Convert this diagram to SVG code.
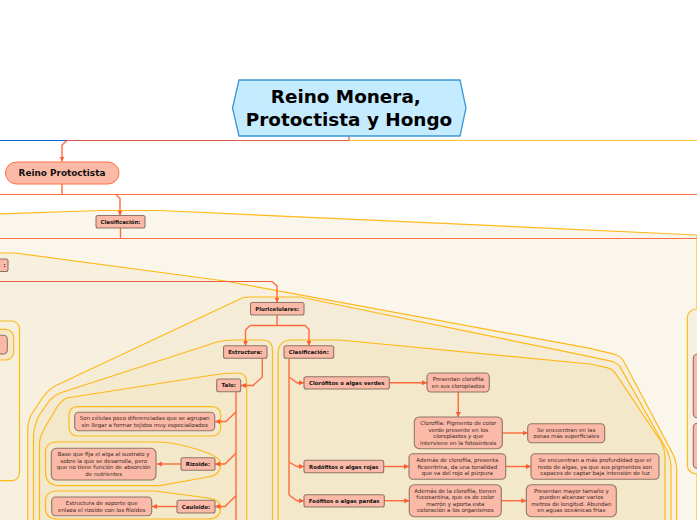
<svg xmlns="http://www.w3.org/2000/svg" width="697" height="520" viewBox="0 0 697 520">
<style>
text{font-family:"DejaVu Sans","Liberation Sans",sans-serif;text-anchor:middle;fill:#3a2a25}
.b{font-size:5.4px;font-weight:bold;fill:#111}
.t{font-size:5.5px}
.n{fill:#fbb9a7;stroke:#8f7567;stroke-width:1.1}
.r{stroke:#ffb919;stroke-width:1.2;fill:#f3e8ca}
.c{fill:none;stroke:#ff6a3d;stroke-width:1.4;marker-end:url(#a)}
.p{fill:none;stroke:#ff6a3d;stroke-width:1.4}
.l{fill:none;stroke:#ff6f47;stroke-width:1.1}
</style>
<defs><marker id="a" markerUnits="userSpaceOnUse" markerWidth="6" markerHeight="6" refX="5" refY="3" orient="auto"><path d="M0 0.5L5 3L0 5.5Z" fill="#ff5a2e"/></marker></defs>
<rect width="697" height="520" fill="#fff"/>
<g id="regions">
<path class="r" style="fill:#fbf6ec" d="M-2 214L100 210.5H160L697 235V522H-2Z"/>
<path class="r" style="fill:#f7f0df" d="M-2 253H15L225 281L590 348.3L615 354.3Q620 356 623 360L671.7 451.700Q676.700 461 676.700 470V522H-2Z"/>
<path class="r" style="fill:#f5ecd7" d="M27.7 522V430Q27.7 420 33 412L43 397Q50 388 57 385L240 299Q243 297 250 297H300L590 356.700L613 361.700Q617 363 620 366.700L665 446.700Q671 457 671 468V522Z"/>
<path class="r" style="fill:#f3ead0" d="M33.5 522V437Q34 424 40 414L50 400Q55 395 60 393L217 342Q225 340 235 340H262Q272.5 340 272.5 350V522Z"/>
<path class="r" d="M39.5 522V443Q40 437 44 429L57 407Q62 400 67 398L213 375Q225 373 237 373Q246.7 373 246.7 382V522Z"/>
<path class="r" d="M278 522V354Q278 340 292 340H340L590 364L607 367.700Q612 369 615 372.700L660 440Q665 448 665 458V522Z"/>
<rect class="r" x="69" y="406.7" width="151.7" height="29.3" rx="8"/>
<path class="r" d="M53 442H160Q180 443 208 453Q220.7 458 220.7 464Q220.7 475 208 477L160 485.7H60Q45.5 485.7 45.5 472V452Q45.5 442 58 442Z"/>
<path class="r" d="M58 491H155L208 498Q220.7 500 220.7 507Q220.7 519 208 519H58Q45.5 519 45.5 508V501Q45.5 491 58 491Z"/>
<rect class="r" style="fill:#f7f0df" x="-20" y="321" width="39.5" height="159.7" rx="8"/>
<rect class="r" x="-20" y="329.3" width="33.7" height="30.7" rx="8"/>
<rect class="r" style="fill:#f7f0df" x="687.3" y="309" width="40" height="165" rx="9"/>
</g>
<g id="connectors">
<path d="M0 140.5H67" fill="none" stroke="#0a64d8" stroke-width="1.2"/>
<path d="M349 136V140.5H67" fill="none" stroke="#e2574c" stroke-width="1.2"/>
<path d="M349 140.5H697" fill="none" stroke="#ffc433" stroke-width="1.2"/>
<path class="c" d="M67 140.5L62 145V161.5"/>
<path class="p" d="M62 184V194.5"/>
<path class="l" d="M0 194.5H697"/>
<path class="c" d="M116 194.5L120 198.5V215.5"/>
<path class="p" d="M120.500 228V238.500"/>
<path class="l" d="M0 238.500H697"/>
<path class="l" style="stroke:#e8603c" d="M0 281.500H272"/>
<path class="c" d="M272 281.500L277 286V302.500"/>
<path class="p" d="M277 315V325.500"/>
<path class="c" d="M250 325.500L245.500 330V345.700"/>
<path class="c" d="M250 325.500H305L309 329.500V345.700"/>
<path class="c" d="M262.300 358V377L253 385.500H241"/>
<path class="p" d="M236 391.700V522"/>
<path class="c" d="M236 412L226 421.500H215"/>
<path class="c" d="M236 453L225 464H215"/>
<path class="c" d="M236 495.500L225 506.500H215"/>
<path class="c" d="M181 464H157"/>
<path class="c" d="M177 506.500H152"/>
<path class="p" d="M289 358V495"/>
<path class="c" d="M289 377L297 382.700H304"/>
<path class="c" d="M289 462L297 466.500H304"/>
<path class="c" d="M289 495L297 500.700H304"/>
<path class="c" d="M389.300 382.700H427"/>
<path class="c" d="M458.300 392V417"/>
<path class="c" d="M502.300 433H527.700"/>
<path class="c" d="M383.700 466.500H409"/>
<path class="c" d="M505.700 466.500H531"/>
<path class="c" d="M384.300 500.700H409.300"/>
<path class="c" d="M501.300 500.700H526.300"/>
</g>
<g id="root"><path d="M232.500 108L239 80H460L466 108L460 136H239Z" fill="#c5ebff" stroke="#3a97d8" stroke-width="1.300"/>
<text x="345.800" y="102.500" style="font-size:18.400px;font-weight:bold;fill:#000">Reino Monera,</text><text x="349" y="126" style="font-size:18.400px;font-weight:bold;fill:#000">Protoctista y Hongo</text></g>
<g id="protoctista"><rect x="5.500" y="162" width="113.500" height="22" rx="11" fill="#fbb9a7" stroke="#ff7043" stroke-width="1"/><text x="62" y="176" style="font-size:8.900px;font-weight:bold;fill:#111">Reino Protoctista</text></g>
<g id="clasificacion1"><rect class="n" x="96" y="215.500" width="49" height="12.500" rx="2"/><text class="b" x="120.500" y="223.800">Clasificación:</text></g>
<g id="unicelulares"><rect class="n" x="-30" y="259" width="38" height="12.500" rx="2"/><text class="b" x="4.500" y="267.300">:</text></g>
<g id="pluricelulares"><rect class="n" x="250.500" y="302.500" width="53.500" height="12.500" rx="2"/><text class="b" x="277.200" y="310.800">Pluricelulares:</text></g>
<g id="estructura"><rect class="n" x="223.500" y="345.700" width="43.500" height="12.500" rx="2"/><text class="b" x="245.200" y="354">Estructura:</text></g>
<g id="clasificacion2"><rect class="n" x="284" y="345.700" width="49.700" height="12.500" rx="2"/><text class="b" x="308.800" y="354">Clasificación:</text></g>
<g id="talo"><rect class="n" x="216.700" y="379" width="24" height="12.700" rx="2"/><text class="b" x="228.700" y="387.400">Talo:</text></g>
<g id="celulas"><rect class="n" x="74.700" y="412.300" width="140" height="18.400" rx="4"/><text class="t" x="144.700" y="419.700">Son células poco diferenciadas que se agrupan</text><text class="t" x="144.700" y="427">sin llegar a formar tejidos muy especializados</text></g>
<g id="base"><rect class="n" x="51.300" y="448.300" width="104.700" height="31.700" rx="5"/><text class="t" x="103.700" y="456">Base que fija el alga al sustrato y</text><text class="t" x="103.700" y="462.700">sobre la que se desarrolla, pero</text><text class="t" x="103.700" y="469.300">que no tiene función de absorción</text><text class="t" x="103.700" y="476">de nutrientes</text></g>
<g id="rizoide"><rect class="n" x="181" y="457.700" width="34" height="12.600" rx="2"/><text class="b" x="198" y="466">Rizoide:</text></g>
<g id="soporte"><rect class="n" x="51.700" y="497" width="100" height="18.700" rx="4"/><text class="t" x="101.700" y="505.300">Estructura de soporte que</text><text class="t" x="101.700" y="512">enlaza el rizoide con los filoides</text></g>
<g id="cauloide"><rect class="n" x="177" y="500.300" width="38" height="12.700" rx="2"/><text class="b" x="196" y="508.700">Cauloide:</text></g>
<g id="clorofitos"><rect class="n" x="304" y="376.700" width="85.300" height="12.300" rx="2"/><text class="b" x="346.700" y="385">Clorófitos o algas verdes</text></g>
<g id="presentan"><rect class="n" x="427" y="373" width="62.300" height="19" rx="4"/><text class="t" x="458.200" y="381">Presentan clorofila</text><text class="t" x="458.200" y="388">en sus cloroplastos</text></g>
<g id="clorofila"><rect class="n" x="414.300" y="417" width="88" height="31.700" rx="5"/><text class="t" x="458.300" y="425">Clorofila: Pigmento de color</text><text class="t" x="458.300" y="432">verde presente en los</text><text class="t" x="458.300" y="438.300">cloroplastos y que</text><text class="t" x="458.300" y="445">interviene en la fotosíntesis</text></g>
<g id="superficiales"><rect class="n" x="527.700" y="423.700" width="77" height="19" rx="4"/><text class="t" x="566.200" y="432">Se encuentran en las</text><text class="t" x="566.200" y="438.300">zonas más superficiales</text></g>
<g id="rodofitos"><rect class="n" x="304" y="460.300" width="79.700" height="12.400" rx="2"/><text class="b" x="343.800" y="468.700">Rodófitos o algas rojas</text></g>
<g id="ficoeritrina"><rect class="n" x="409" y="453.700" width="96.700" height="25.600" rx="4"/><text class="t" x="457.300" y="462">Además de clorofila, presenta</text><text class="t" x="457.300" y="469">ficoeritrina, da una tonalidad</text><text class="t" x="457.300" y="475">que va del rojo al púrpura</text></g>
<g id="profundidad"><rect class="n" x="531" y="453.700" width="128" height="25.600" rx="4"/><text class="t" x="595" y="462">Se encuentran a más profundidad que el</text><text class="t" x="595" y="469">resto de algas, ya que sus pigmentos son</text><text class="t" x="595" y="475">capaces de captar baja intensión de luz</text></g>
<g id="feofitos"><rect class="n" x="304" y="494.700" width="80.300" height="12.300" rx="2"/><text class="b" x="344.200" y="503">Feófitos o algas pardas</text></g>
<g id="fucoxantina"><rect class="n" x="409.300" y="484.700" width="92" height="32" rx="5"/><text class="t" x="455.300" y="492.700">Además de la clorofila, tienen</text><text class="t" x="455.300" y="499">fucoxantina, que es de color</text><text class="t" x="455.300" y="506">marrón y aporta esta</text><text class="t" x="455.300" y="512">coloración a los organismos</text></g>
<g id="tamano"><rect class="n" x="526.300" y="484.700" width="90" height="32" rx="5"/><text class="t" x="571.300" y="492.700">Presentan mayor tamaño y</text><text class="t" x="571.300" y="499">pueden alcanzar varios</text><text class="t" x="571.300" y="506">metros de longitud. Abundan</text><text class="t" x="571.300" y="512">en aguas oceánicas frías</text></g>
<g id="izquierda"><rect class="n" x="-30" y="335.300" width="37.300" height="18.700" rx="4"/></g>
<g id="derecha1"><rect class="n" x="693.300" y="354.300" width="30" height="63.400" rx="4"/></g>
<g id="derecha2"><rect class="n" x="693.300" y="423.300" width="30" height="45" rx="4"/></g>
</svg>
